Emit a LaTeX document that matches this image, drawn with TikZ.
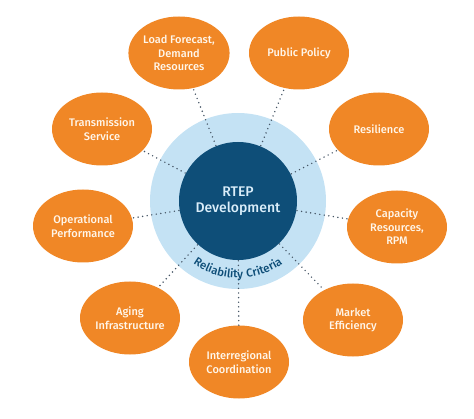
\documentclass[tikz,border=0pt]{standalone}
\usepackage{fontspec}
\setmainfont{Fira Sans Medium}
\newfontfamily\ringfont[LetterSpace=7]{Fira Sans Medium}
\usetikzlibrary{shapes.geometric,decorations.text}
\definecolor{rteporange}{RGB}{240,135,38}
\definecolor{rtepdark}{RGB}{14,78,120}
\definecolor{rteplight}{RGB}{196,226,244}
\definecolor{rtepdots}{RGB}{70,86,102}
\definecolor{rteptext}{RGB}{218,238,250}
\definecolor{rtepcream}{RGB}{255,246,234}

\begin{document}
\begin{tikzpicture}[x=1pt, y=1pt, font=\fontsize{11}{13.5}\selectfont]
  \tikzstyle{factor}=[ellipse, fill=rteporange, text=rtepcream, minimum width=100pt, minimum height=73pt, inner sep=0pt, align=center]
  \tikzstyle{link}=[rtepdots, line width=1.6pt, dash pattern=on 0pt off 4.6pt, line cap=round]
  \useasboundingbox (0,0) rectangle (474,418);
  \coordinate (hub) at (238,217);
  \node[circle, fill=rteplight, minimum size=176pt, inner sep=0pt] (ring) at (hub) {};
  % factors around the hub
  \node[factor] (load) at (179,365) {Load Forecast,\\Demand\\Resources};
  \node[factor] (policy) at (299,365) {Public Policy};
  \node[factor] (trans) at (102,289) {Transmission\\Service};
  \node[factor] (resil) at (379,289) {Resilience};
  \node[factor] (oper) at (83,192) {Operational\\Performance};
  \node[factor] (capac) at (397,191) {Capacity\\Resources,\\RPM};
  \node[factor] (aging) at (130,100) {Aging\\Infrastructure};
  \node[factor] (inter) at (239,56) {Interregional\\Coordination};
  \node[factor] (market) at (353,98) {Market\\Efficiency};
  \foreach \f in {load,policy,trans,resil,oper,capac,aging,inter,market}
    \draw[link] (hub) -- (\f);
  \node[circle, fill=rtepdark, minimum size=118pt, inner sep=0pt, text=rteptext, align=center, font=\fontsize{14}{16}\selectfont] (core) at (hub) {RTEP\\Development};
  \path[decorate, decoration={text along path, text align=center, text={|\ringfont\fontsize{11.5}{13}\selectfont\color{rtepdark}|Reliability Criteria}}] (hub) ++(200:77) arc[start angle=200, end angle=340, radius=77];
\end{tikzpicture}
\end{document}
